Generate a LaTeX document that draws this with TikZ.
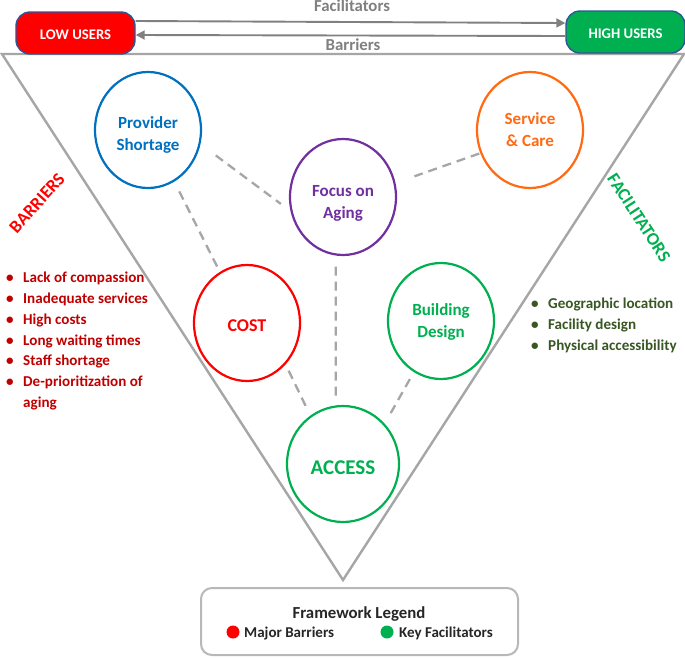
\documentclass[tikz,border=0pt]{standalone}
\usepackage{fontspec}
\setmainfont{Carlito}
\usetikzlibrary{shapes.geometric,arrows.meta}
\definecolor{cblue}{HTML}{0070C0}
\definecolor{corange}{HTML}{FF6A13}
\definecolor{cpurple}{HTML}{7030A0}
\definecolor{cred}{HTML}{FF0000}
\definecolor{cgreen}{HTML}{00B050}
\definecolor{cdred}{HTML}{C00000}
\definecolor{cdgreen}{HTML}{385723}
\definecolor{cgrey}{HTML}{A6A6A6}
\definecolor{cagrey}{HTML}{808080}
\definecolor{cdark}{HTML}{262626}
\definecolor{cedge}{HTML}{2F5597}
\newcommand\dnstrut[1]{\rule{0pt}{#1}}
\tikzset{
  blob/.style={ellipse,draw=#1,text=#1,line width=2.2pt,minimum width=106pt,minimum height=116pt,inner sep=0pt,align=center,font=\bfseries\fontsize{17}{22}\selectfont},
  userbox/.style={rectangle,rounded corners=14pt,draw=cedge,fill=#1,line width=1.4pt,minimum width=119pt,minimum height=42pt,inner sep=0pt,text=white,font=\bfseries\fontsize{14.7}{16}\selectfont},
  flowarrow/.style={draw=cagrey,line width=1.9pt,-{Triangle[length=9pt,width=9pt]}},
  flowlabel/.style={text=cagrey,inner sep=0pt,font=\bfseries\fontsize{16.8}{18}\selectfont},
  dashlink/.style={draw=cgrey,line width=2.3pt,dash pattern=on 9pt off 6pt},
  sidelabel/.style={inner sep=0pt,font=\bfseries\fontsize{18}{20}\selectfont},
  listblock/.style={inner sep=0pt,anchor=west,align=left,font=\bfseries\fontsize{15.1}{20.9}\selectfont},
  legendtext/.style={inner sep=0pt,anchor=west,text=cdark,font=\bfseries\fontsize{15}{18}\selectfont},
  legenddot/.style={circle,fill=#1,minimum size=13pt,inner sep=0pt},
}
\begin{document}
\begin{tikzpicture}[x=1pt,y=-1pt]
\useasboundingbox (0,0) rectangle (685,657);
\fill[white] (0,0) rectangle (685,657);
% triangle
\draw[cgrey,line width=2.4pt,line join=miter] (2,54) -- (684,54) -- (343,580) -- cycle;
% top boxes
\node[userbox=cred] (low) at (75.5,33) {\dnstrut{13pt}LOW USERS};
\node[userbox=cgreen] (high) at (625.5,32) {\dnstrut{13pt}HIGH USERS};
\draw[flowarrow] ([yshift=12pt]low.east) -- ([yshift=9pt]high.west);
\draw[flowarrow] ([yshift=-4pt]high.west) -- ([yshift=-2pt]low.east);
\node[flowlabel] (flab) at (352,6) {Facilitators};
\node[flowlabel] (blab) at (353,45) {Barriers};
% circles
\node[blob=cblue] (prov) at (148,130) {\dnstrut{22pt}Provider\\Shortage};
\node[blob=corange] (serv) at (530,130) {Service\\\& Care};
\node[blob=cpurple] (focus) at (343,197) {\dnstrut{23pt}Focus on\\Aging};
\node[blob=cred,font=\bfseries\fontsize{18}{22}\selectfont] (cost) at (247,323) {\dnstrut{18pt}COST};
\node[blob=cgreen] (build) at (441,321) {\dnstrut{14pt}Building\\Design};
\node[blob=cgreen,minimum width=112pt,font=\bfseries\fontsize{21}{24}\selectfont] (access) at (343,464) {\dnstrut{22pt}ACCESS};
% dashed links
\draw[dashlink,shorten <=19pt,shorten >=12pt] (prov.-15) -- (focus.195);
\draw[dashlink,shorten <=11pt,shorten >=5pt] (prov.-63) -- (cost.118);
\draw[dashlink,shorten <=1pt,shorten >=20pt] (serv.205) -- (focus.15);
\draw[dashlink,shorten <=11pt,shorten >=6pt] (focus.-97) -- (access.97);
\draw[dashlink,shorten <=7pt,shorten >=10pt] (cost.-47) -- (access.124);
\draw[dashlink,shorten <=8pt,shorten >=7pt] (build.-118) -- (access.44);
% side labels
\node[sidelabel,text=cred,rotate=48] (barr) at (37,203) {BARRIERS};
\node[sidelabel,text=cgreen,rotate=-57] (faci) at (639,218) {FACILITATORS};
% lists
\node[listblock,text=cdred] (blist) at (6,341) {•\hspace{9.5pt}Lack of compassion\\•\hspace{9.5pt}Inadequate services\\•\hspace{9.5pt}High costs\\•\hspace{9.5pt}Long waiting times\\•\hspace{9.5pt}Staff shortage\\•\hspace{9.5pt}De-prioritization of\\\phantom{•}\hspace{9.5pt}aging};
\node[listblock,text=cdgreen] (flist) at (531,325.5) {•\hspace{9.5pt}Geographic location\\•\hspace{9.5pt}Facility design\\•\hspace{9.5pt}Physical accessibility};
% legend
\node[draw=cgrey!80,line width=2pt,rounded corners=11pt,minimum width=317pt,minimum height=67pt,inner sep=0pt] (legend) at (359.5,621.5) {};
\node[inner sep=0pt,text=cdark,font=\bfseries\fontsize{16.8}{18}\selectfont] (ltitle) at (359,614) {Framework Legend};
\node[legenddot=cred] (d1) at (233,632) {};
\node[legendtext] (t1) at (244,633) {Major Barriers};
\node[legenddot=cgreen] (d2) at (387,632) {};
\node[legendtext] (t2) at (399,633) {Key Facilitators};
\end{tikzpicture}
\end{document}
